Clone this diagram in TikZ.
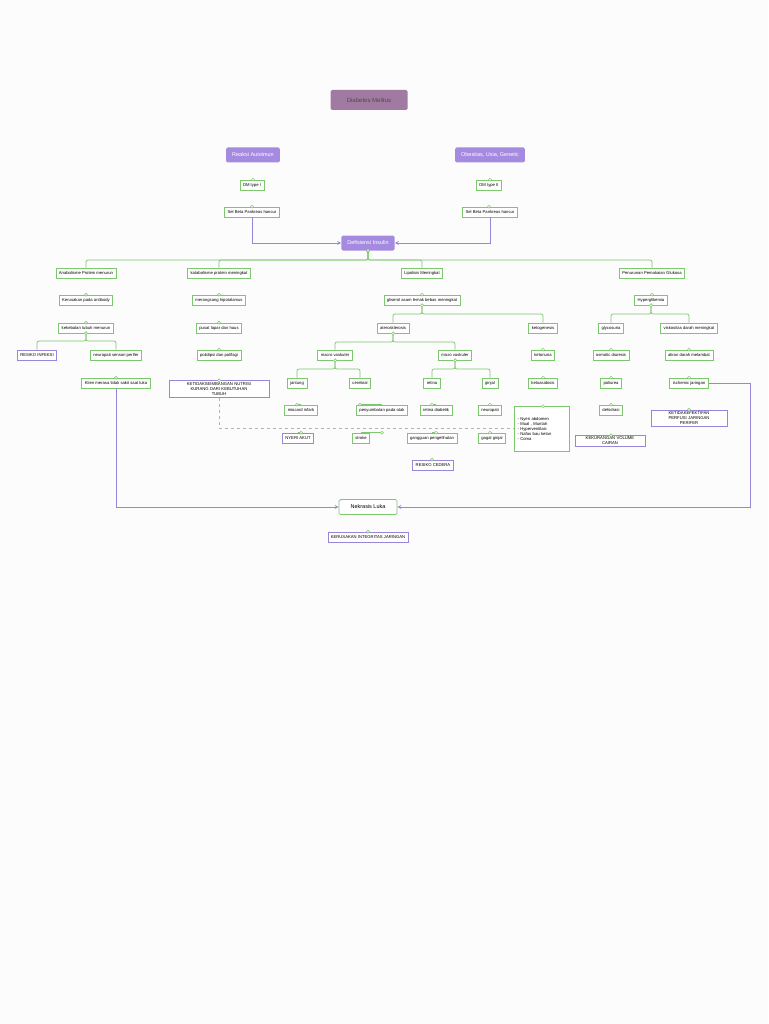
\documentclass[tikz,border=0pt]{standalone}
\usepackage{fontspec}
\setmainfont{Liberation Sans}
\usetikzlibrary{calc}
\definecolor{gc}{HTML}{7CC86C}
\definecolor{pc}{HTML}{A58BE0}
\definecolor{pb}{HTML}{9A86D8}
\definecolor{tc}{HTML}{A07AA0}
\begin{document}
\begin{tikzpicture}[x=1pt,y=-1pt,
  gbox/.style={draw=gc,fill=white,line width=0.7pt,inner xsep=3pt,inner ysep=1.5pt,minimum height=10pt,font=\fontsize{4.2}{5}\selectfont},
  pbox/.style={gbox,draw=pb,line width=0.6pt},
  hbox/.style={draw=none,fill=pc,rounded corners=1.5pt,text=white,minimum height=15pt,inner xsep=6pt,font=\fontsize{5.5}{6}\selectfont},
  gl/.style={draw=gc,line width=0.7pt},
  pl/.style={draw=pb,line width=0.8pt},
  dot/.style={circle,draw=gc,fill=white,inner sep=0pt,minimum size=3pt,line width=0.5pt}]
\useasboundingbox (0,0) rectangle (768,1024);
\fill[white!98!gray] (0,0) rectangle (768,1024);
\node[hbox,fill=tc,text=black!70,minimum width=77pt,minimum height=20pt,font=\fontsize{6}{7}\selectfont] (dm) at (369,100) {Diabetes Melitus};
\node[hbox] (ra) at (253,155) {Reaksi Autoimun};
\node[hbox] (ob) at (490,155) {Obesitas, Usia, Genetic};
\node[gbox] (t1) at (252,185) {DM type I};
\node[gbox] (t2) at (489,185) {DM type II};
\node[gbox] (s1) at (252,212) {Sel Beta Pankreas hancur};
\node[gbox] (s2) at (490,212) {Sel Beta Pankreas hancur};
\node[hbox] (di) at (368,243) {Defisiensi Insulin};
% level 1
\node[gbox] (a1) at (86,273) {Anabolisme Protein menurun};
\node[gbox] (b1) at (219,273) {katabolisme protein meningkat};
\node[gbox] (c1) at (422,273) {Lipolisis Meningkat};
\node[gbox] (d1) at (652,273) {Penurunan Pemakaian Glukosa};
\node[gbox] (a2) at (86,300) {Kerusakan pada antibody};
\node[gbox] (b2) at (219,300) {merangsang hipotalamus};
\node[gbox] (c2) at (422,300) {gliserol asam lemak bebas meningkat};
\node[gbox] (d2) at (651,300) {Hyperglikemia};
\node[gbox] (a3) at (86,328) {kekebalan tubuh menurun};
\node[gbox] (b3) at (219,328) {pusat lapar dan haus};
\node[gbox] (c3) at (393,328) {aterosklerosis};
\node[gbox] (e3) at (543,328) {ketogenesis};
\node[gbox] (f3) at (611,328) {glycosuria};
\node[gbox] (g3) at (689,328) {viskositas darah meningkat};
\node[pbox] (ri) at (37,355) {RESIKO INFEKSI};
\node[gbox] (a4) at (116,355) {neuropati sensori perifer};
\node[gbox] (b4) at (219,355) {polidipsi dan polifagi};
\node[gbox] (mac) at (335,355) {macro vaskuler};
\node[gbox] (mic) at (455,355) {micro vaskuler};
\node[gbox] (e4) at (543,355) {ketonuria};
\node[gbox] (f4) at (611,355) {osmotic diuresis};
\node[gbox] (g4) at (689,355) {aliran darah melambat};
\node[gbox] (a5) at (116,383) {Klien merasa tidak sakit saat luka};
\node[pbox,align=center,text width=94pt,inner ysep=2pt] (kn) at (219,389) {KETIDAKSEIMBANGAN NUTRISI\\KURANG DARI KEBUTUHAN\\TUBUH};
\node[gbox] (jan) at (297,383) {jantung};
\node[gbox] (cer) at (360,383) {cerebral};
\node[gbox] (ret) at (432,383) {retina};
\node[gbox] (gin) at (490,383) {ginjal};
\node[gbox] (e5) at (543,383) {ketoasidosis};
\node[gbox] (f5) at (611,383) {poliurea};
\node[gbox] (g5) at (689,383) {ischemic jaringan};
\node[gbox] (mio) at (301,410) {miocard infark};
\node[gbox] (pen) at (382,410) {penyumbatan pada otak};
\node[gbox] (rd) at (436,410) {retina diabetik};
\node[gbox] (neu) at (490,410) {neuropati};
\node[gbox,align=left,text width=49pt,minimum height=45pt,inner ysep=3pt] (ny) at (542,429) {- Nyeri abdomen\\- Mual , Muntah\\- Hyperventilasi\\- Nafas bau keton\\- Coma};
\node[gbox] (f6) at (611,410) {dehidrasi};
\node[pbox,align=center,text width=70pt] (kp) at (689,418) {KETIDAKEFEKTIFAN\\PERFUSI JARINGAN\\PERIFER};
\node[pbox] (na) at (298,438) {NYERI AKUT};
\node[gbox] (str) at (361,438) {stroke};
\node[gbox] (gg) at (432,438) {gangguan pengelihatan};
\node[gbox] (gag) at (492,438) {gagal ginjal};
\node[pbox,align=center,text width=64pt] (kv) at (610,441) {KEKURANGAN VOLUME\\CAIRAN};
\node[pbox] (rc) at (433,465) {RESIKO CEDERA};
\node[gbox,rounded corners=1.5pt,minimum height=15pt,minimum width=58pt,font=\fontsize{5.5}{6}\selectfont] (nl) at (368,507) {Nekrasis Luka};
\node[pbox] (kj) at (368,537) {KERUSAKAN INTEGRITAS JARINGAN};
% dashed gray
\draw[gray!60,dashed,line width=0.4pt] (kn.south) -- (219,428) -- (ny.west |- 0,428);
% straight vertical links (child below parent)
\foreach \p/\c in {t1/ra,s1/t1,t2/ob,s2/t2,a2/a1,a3/a2,b2/b1,b3/b2,b4/b3,c2/c1,d2/d1,e4/e3,e5/e4,f4/f3,f5/f4,f6/f5,g4/g3,g5/g4,a5/a4,kn/b4,mio/jan,pen/cer,rd/ret,neu/gin,ny/e5,kv/f6,kp/g5,na/mio,str/pen,gg/rd,gag/neu,rc/gg,kj/nl}{
  \draw[gl] (\p.north) -- (\p.north -| \c.south);
  \node[dot] at (\p.north -| \c.south) {};}
% bus links
\foreach \pp/\c/\yb in {di/a1/260,di/b1/260,di/c1/260,di/d1/260,
   a3/ri/341,a3/a4/341,c2/c3/314,c2/e3/314,d2/f3/314,d2/g3/314,
   c3/mac/342,c3/mic/342,mac/jan/369,mac/cer/369,mic/ret/369,mic/gin/369}{
  \draw[gl,rounded corners=2pt] (\pp.south) -- (\pp.south |- 0,\yb) -| (\c.north);
  \node[dot] at (\pp.south) {};}
% purple arrows
\draw[pl,->,>=stealth] (s1.south) |- (di.west);
\draw[pl,->,>=stealth] (s2.south) |- (di.east);
\draw[pl,->,>=stealth] (a5.south) |- (nl.west);
\draw[pl,->,>=stealth] (g5.east) -- (750,383) |- (nl.east);
\end{tikzpicture}
\end{document}
